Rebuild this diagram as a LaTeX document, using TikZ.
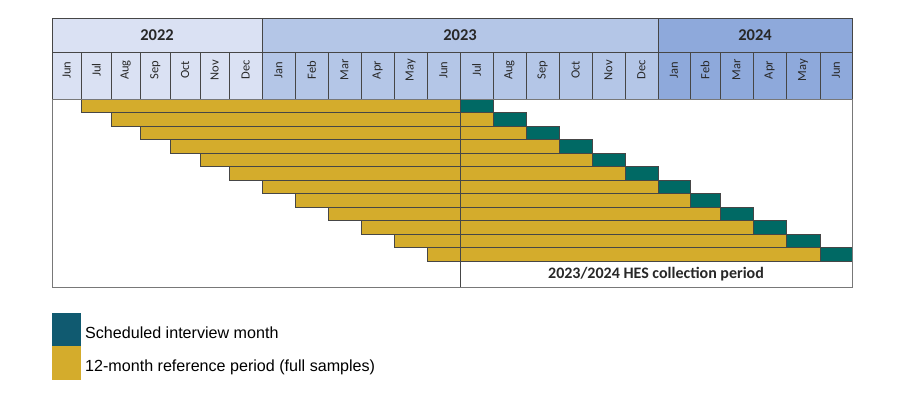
\documentclass[tikz,border=0pt]{standalone}
\usepackage{fontspec}
\setmainfont{Carlito}
\newfontfamily\arialf{Liberation Sans}
\definecolor{yA}{RGB}{218,225,243}
\definecolor{yB}{RGB}{180,198,231}
\definecolor{yC}{RGB}{142,169,219}
\definecolor{goldbar}{RGB}{212,172,44}
\definecolor{tealbar}{RGB}{0,105,100}
\definecolor{legteal}{RGB}{16,90,112}
\definecolor{gridc}{RGB}{70,70,70}
\definecolor{framec}{RGB}{120,120,120}
\definecolor{txt}{RGB}{40,40,40}
\tikzset{
  cellline/.style={draw=gridc, line width=0.9pt},
  barline/.style={draw=gridc, line width=0.8pt},
  yeartext/.style={font=\fontsize{16.5}{18}\selectfont\bfseries, text=txt},
  monthtext/.style={font=\fontsize{12.5}{14}\selectfont, text=txt, rotate=90, inner sep=0pt},
  hestext/.style={font=\fontsize{16}{19}\selectfont\bfseries, text=txt},
  legtext/.style={font=\arialf\fontsize{16.1}{18}\selectfont, text=black, anchor=west, inner sep=0pt}
}
\begin{document}
\begin{tikzpicture}[x=1pt,y=-1pt]
\useasboundingbox (0,0) rectangle (900,393);
\fill[white] (0,0) rectangle (900,393);
% year row
\draw[cellline, fill=yA] (52,18) rectangle (262,52.3);
\draw[cellline, fill=yB] (262,18) rectangle (658,52.3);
\draw[cellline, fill=yC] (658,18) rectangle (852,52.3);
\node[yeartext] (y2022) at (157,35) {2022};
\node[yeartext] (y2023) at (460,35) {2023};
\node[yeartext] (y2024) at (755,35) {2024};
% month row
\foreach \a/\b/\m/\c [count=\k] in {
  52/81.5/Jun/yA, 81.5/111/Jul/yA, 111/140.5/Aug/yA, 140.5/170/Sep/yA,
  170/200/Oct/yA, 200/229.5/Nov/yA, 229.5/262/Dec/yA,
  262/295/Jan/yB, 295/328/Feb/yB, 328/361/Mar/yB, 361/394/Apr/yB,
  394/427/May/yB, 427/460/Jun/yB, 460/493/Jul/yB, 493/526/Aug/yB,
  526/559/Sep/yB, 559/592/Oct/yB, 592/625/Nov/yB, 625/658/Dec/yB,
  658/690/Jan/yC, 690/720/Feb/yC, 720/753/Mar/yC, 753/786/Apr/yC,
  786/820/May/yC, 820/852/Jun/yC} {
  \draw[cellline, fill=\c] (\a,52.3) rectangle (\b,99.3);
  \node[monthtext] (m\k) at ({(\a+\b)/2},70) {\m};
}
% bars
\foreach \s/\e/\t [count=\i from 0] in {
  81.5/460/493, 111/493/526, 140.5/526/559, 170/559/592,
  200/592/625, 229.5/625/658, 262/658/690, 295/690/720,
  328/720/753, 361/753/786, 394/786/820, 427/820/852} {
  \draw[barline, fill=goldbar] (\s,{99.3+13.5*\i}) rectangle (\e,{112.8+13.5*\i});
  \draw[barline, fill=tealbar] (\e,{99.3+13.5*\i}) rectangle (\t,{112.8+13.5*\i});
}
% frame and divider
\draw[draw=framec, line width=1pt] (52,99.3) rectangle (852,287.3);
\draw[draw=gridc, line width=0.9pt] (460,99.3) -- (460,287.3);
\node[hestext] (hes) at (656,274) {2023/2024 HES collection period};
% legend
\fill[legteal] (52,313.3) rectangle (81,346.3);
\fill[goldbar] (52,346.3) rectangle (81,380);
\node[legtext] (l1) at (85,333) {Scheduled interview month};
\node[legtext] (l2) at (85,367) {12-month reference period (full samples)};
\end{tikzpicture}
\end{document}
